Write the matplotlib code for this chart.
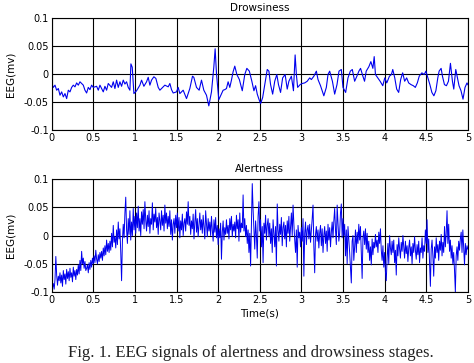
import numpy as np
import matplotlib.pyplot as plt

# Drowsiness trace: sample times (s) and values (mV)
drow_t = [0.000, 0.020, 0.040, 0.060, 0.080, 0.100, 0.120, 0.140, 0.160, 0.180,
          0.200, 0.220, 0.240, 0.260, 0.280, 0.300, 0.320, 0.340, 0.360, 0.380,
          0.400, 0.420, 0.440, 0.460, 0.480, 0.500, 0.540, 0.560, 0.580, 0.620,
          0.640, 0.660, 0.680, 0.720, 0.740, 0.760, 0.780, 0.800, 0.820, 0.840,
          0.860, 0.880, 0.900, 0.920, 0.940, 0.952, 0.968, 0.988, 1.020, 1.060,
          1.080, 1.108, 1.140, 1.160, 1.180, 1.200, 1.228, 1.252, 1.280, 1.300,
          1.340, 1.360, 1.400, 1.420, 1.440, 1.460, 1.500, 1.520, 1.540, 1.580,
          1.620, 1.660, 1.692, 1.708, 1.740, 1.772, 1.800, 1.828, 1.860, 1.888,
          1.920, 1.948, 1.964, 1.980, 2.008, 2.032, 2.060, 2.080, 2.100, 2.120,
          2.140, 2.160, 2.180, 2.200, 2.225, 2.255, 2.290, 2.320, 2.345,
          2.375, 2.405, 2.430, 2.450, 2.470, 2.490, 2.510, 2.535, 2.560, 2.590,
          2.610, 2.630, 2.655, 2.680, 2.705, 2.725, 2.750, 2.775, 2.805, 2.830,
          2.850, 2.880, 2.905, 2.925, 2.940, 2.955, 2.985, 3.010, 3.040, 3.070,
          3.100, 3.120, 3.150, 3.180, 3.200, 3.230, 3.270, 3.300, 3.320, 3.340,
          3.373, 3.400, 3.428, 3.452, 3.480, 3.500, 3.532, 3.560, 3.588, 3.612,
          3.640, 3.667, 3.691, 3.711, 3.739, 3.759, 3.779, 3.811, 3.835, 3.859,
          3.875, 3.890, 3.918, 3.946, 3.978, 4.002, 4.026, 4.058, 4.082, 4.098,
          4.122, 4.145, 4.169, 4.193, 4.217, 4.241, 4.265, 4.289, 4.317, 4.345,
          4.369, 4.393, 4.416, 4.448, 4.476, 4.496, 4.520, 4.544, 4.568, 4.592,
          4.616, 4.639, 4.655, 4.679, 4.695, 4.719, 4.743, 4.767, 4.791, 4.815,
          4.831, 4.855, 4.875, 4.894, 4.918, 4.942, 4.966, 4.990, 5.000]
drow_v = [-0.017, -0.024, -0.020, -0.029, -0.026, -0.038, -0.032, -0.041, -0.035, -0.044,
          -0.029, -0.032, -0.024, -0.020, -0.023, -0.016, -0.020, -0.014, -0.017, -0.020,
          -0.029, -0.034, -0.024, -0.028, -0.020, -0.024, -0.022, -0.029, -0.020, -0.032,
          -0.022, -0.029, -0.017, -0.024, -0.014, -0.026, -0.011, -0.024, -0.014, -0.022,
          -0.011, -0.018, -0.014, -0.024, -0.029, 0.018, 0.012, -0.035, -0.030, -0.020,
          -0.011, -0.022, -0.014, -0.006, -0.020, -0.011, -0.005, -0.008, -0.024, -0.029,
          -0.023, -0.020, -0.023, -0.017, -0.028, -0.034, -0.032, -0.024, -0.035, -0.029,
          -0.044, -0.026, -0.004, -0.006, -0.024, -0.029, -0.011, -0.029, -0.038, -0.057,
          -0.032, 0.012, 0.045, 0.001, -0.046, -0.038, -0.029, -0.028, -0.026, -0.014,
          -0.024, -0.011, 0.004, 0.014, -0.001, -0.010, -0.030, -0.001, 0.010,
          0.005, -0.013, -0.030, -0.021, -0.036, -0.045, -0.053, -0.042, -0.019, 0.008,
          0.005, -0.019, -0.036, -0.013, -0.001, -0.019, -0.033, -0.007, -0.001, -0.027,
          -0.013, -0.004, -0.030, 0.034, -0.001, -0.024, -0.019, -0.017, -0.016, -0.013,
          -0.007, -0.010, -0.004, 0.005, -0.010, -0.021, -0.039, -0.024, -0.001, 0.005,
          -0.013, -0.036, -0.019, 0.005, 0.008, -0.024, -0.033, -0.007, 0.005, 0.008,
          -0.013, -0.004, 0.005, 0.010, -0.004, -0.013, 0.005, 0.013, 0.022, 0.010,
          0.031, -0.001, -0.007, -0.013, -0.021, -0.007, -0.016, -0.004, -0.001, 0.008,
          -0.007, -0.027, -0.033, -0.010, 0.002, -0.013, -0.007, -0.016, -0.019, -0.021,
          -0.024, -0.016, -0.004, 0.002, -0.001, 0.005, -0.007, -0.019, -0.033, -0.039,
          -0.030, -0.007, 0.005, 0.010, -0.004, -0.019, -0.021, -0.013, 0.019, -0.013,
          -0.027, 0.008, -0.007, -0.021, -0.030, -0.045, -0.024, -0.016, -0.019]

# Alertness trace: 100 Hz samples, values in thousandths of a mV
alert_fs = 100
alert_v = [
    -98, -92, -85, -95, -78, -37, -70, -88, -72, -80,
    -66, -84, -70, -90, -62, -78, -68, -86, -60, -76,
    -64, -80, -58, -74, -66, -82, -56, -72, -62, -78,
    -60, -70, -52, -68, -44, -62, -28, -50, -40, -58,
    -46, -62, -58, -52, -66, -48, -60, -44, -56, -40,
    -50, -36, -48, -26, -42, -50, -34, -46, -30, -40,
    -28, -44, -22, -36, -18, -34, -8, -28, -14, -30,
    -10, -26, 4, -20, 18, -12, -2, -22, 10, -16,
    24, -6, 12, -30, -80, -10, 20, -4, 40, 68,
    10, -14, 30, 2, 44, -8, 24, 0, 48, 10,
    34, 4, 40, 14, 52, 8, 30, 0, 42, 20,
    46, 12, 60, 28, 8, 36, 16, 44, 4, 30,
    20, 58, 10, 38, 24, 48, 14, 32, 2, 40,
    26, 10, 44, 18, 36, 8, 54, 22, 40, 12,
    34, 16, 44, 2, 28, -8, 20, 30, 4, 36,
    14, 40, 8, 32, -4, 26, 10, 38, 0, 22,
    30, 8, 42, 20, 60, 18, 34, 2, 26, 12,
    38, -6, 24, 46, 6, 30, -2, 20, 40, 10,
    28, 4, 36, 14, -6, 44, 20, -2, 30, 8,
    24, 0, 34, 10, -10, 28, 6, 32, -4, 18,
    -16, 12, -4, 22, -42, 6, 26, -8, 14, 2,
    28, 4, 18, -6, 30, 10, 34, -2, 20, 8,
    24, -4, 36, 12, 28, -10, 40, 6, 22, 14,
    72, 8, 30, -2, 18, -14, 10, -30, 4, -54,
    20, 92, 46, 10, -24, 26, 0, -40, 34, 60,
    8, 28, -20, 16, -48, 22, 4, 36, -8, 18,
    30, -2, 22, -14, 12, -30, 28, 4, -20, 16,
    -54, 56, 10, -10, 20, 2, 32, -18, 14, 24,
    -6, 18, -20, 26, 4, 34, -10, 16, 40, 0,
    54, 20, -8, -30, 10, -56, 18, -4, 6, -20,
    14, -10, 30, -72, 4, 24, -16, 10, 18, -6,
    20, -12, 8, 30, 54, -20, -66, 2, 16, -10,
    10, -22, 4, 18, -18, 12, -30, 0, 16, -14,
    8, -28, 20, -8, 14, -20, 6, 24, -4, 26,
    48, 10, -16, 54, 20, -10, 4, 40, 56, -4,
    30, 0, 20, -36, 10, -50, 16, -6, -30, -56,
    -84, -10, 0, -44, -20, 10, -30, 6, -14, 20,
    -8, 16, -28, -76, -4, 8, -16, 12, -24, 4,
    -30, -10, -44, -20, -52, -6, -34, -12, -22, 2,
    -20, -8, -30, 6, -14, 12, -26, -44, -18, -56,
    -30, -64, -80, -40, -14, -50, 0, -22, -34, -10,
    -30, -8, -48, -26, -70, -16, -36, -4, -24, -40,
    -12, -28, 0, -20, -40, -10, -32, -18, -46, -22,
    -8, -36, -20, -50, -14, -30, -2, -26, -42, -16,
    -34, -10, -48, -22, -30, -4, -40, -18, -28, 10,
    -14, 28, -30, -6, -50, -90, -24, -8, -36, -72,
    -20, -40, -4, -30, -16, -44, -10, -26, 2, -36,
    -12, -30, 16, -20, 4, 44, -14, 20, -28, -8,
    -40, -18, -50, -30, -62, -100, -36, -20, -44, -10,
    -26, -6, 6, -30, 10, -20, -52, -14, -34, -18,
    -24]

x_ticks = [0, 0.5, 1, 1.5, 2, 2.5, 3, 3.5, 4, 4.5, 5]
x_labels = ["0", "0.5", "1", "1.5", "2", "2.5", "3", "3.5", "4", "4.5", "5"]
y_ticks = [-0.1, -0.05, 0, 0.05, 0.1]
y_labels = ["-0.1", "-0.05", "0", "0.05", "0.1"]

alert_t = np.arange(len(alert_v)) / alert_fs
alert_mv = np.array(alert_v) / 1000.0

plt.rcParams['font.family'] = 'DejaVu Sans'
fig = plt.figure(figsize=(4.74, 3.63), dpi=100)
ax1 = fig.add_axes([0.109, 0.642, 0.878, 0.3085])
ax2 = fig.add_axes([0.109, 0.1956, 0.878, 0.311])


def style_axes(ax, title):
    ax.set_xlim(0, 5)
    ax.set_ylim(-0.1, 0.1)
    ax.set_xticks(x_ticks)
    ax.set_xticklabels(x_labels)
    ax.set_yticks(y_ticks)
    ax.set_yticklabels(y_labels)
    ax.tick_params(direction='in', length=2, width=0.6, labelsize=7, pad=2,
                   top=True, right=True, colors='black')
    ax.grid(True, color='black', linestyle='-', linewidth=0.8)
    ax.set_axisbelow(True)
    for s in ax.spines.values():
        s.set_linewidth(0.8)
    ax.set_title(title, fontsize=7.5, pad=5)
    ax.set_ylabel("EEG(mv)", fontsize=7.5, labelpad=6)


ax1.plot(drow_t, drow_v, color='#0000ee', linewidth=0.8)
style_axes(ax1, "Drowsiness")

ax2.plot(alert_t, alert_mv, color='#0000ee', linewidth=0.7)
style_axes(ax2, "Alertness")
ax2.set_xlabel("Time(s)", fontsize=7.5, labelpad=3)

fig.text(0.53, 0.028, "Fig. 1. EEG signals of alertness and drowsiness stages.",
         ha='center', va='center', fontsize=12, family='Liberation Serif', color='#222222')

fig.savefig("out.png", dpi=100)
